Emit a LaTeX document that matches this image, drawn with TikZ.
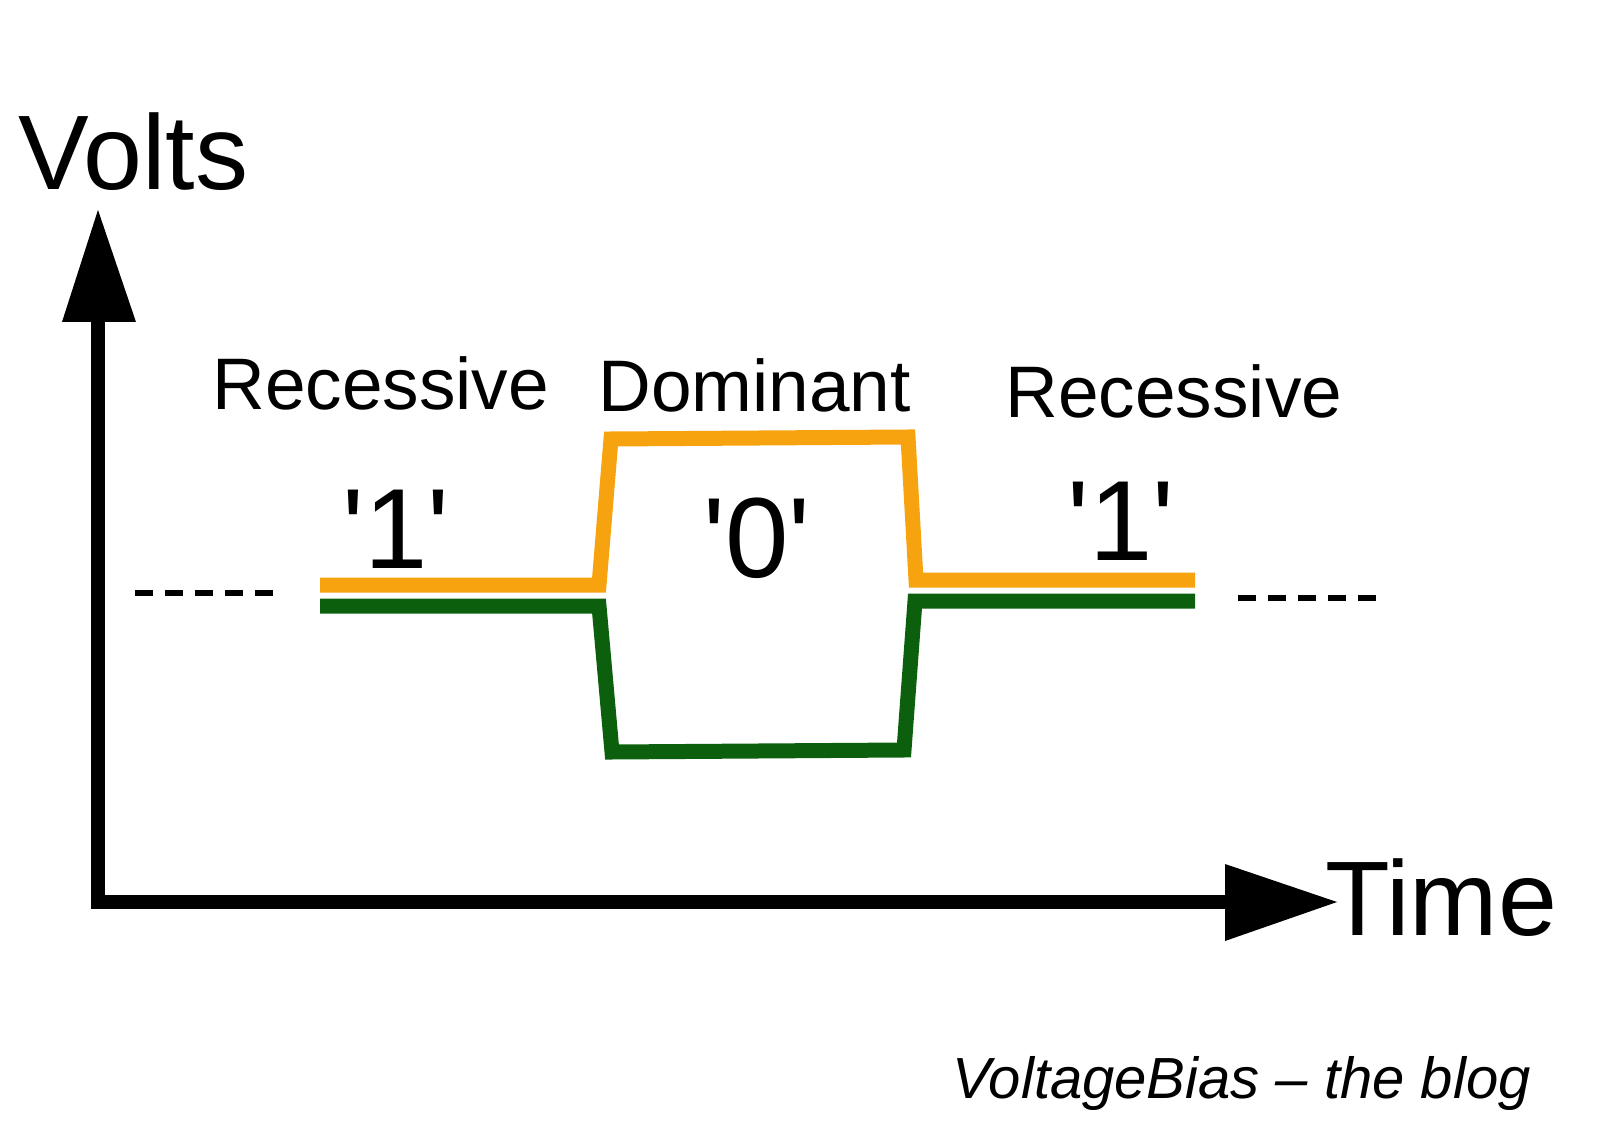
\documentclass[tikz,border=0pt]{standalone}
\usepackage{fontspec}
\setmainfont{Liberation Sans}
\definecolor{org}{HTML}{F7A20F}
\definecolor{grn}{HTML}{0C5F0C}
\newcommand{\sq}{\textquotesingle}
\begin{document}
\begin{tikzpicture}[x=0.5pt,y=-0.5pt,
  wire/.style={line width=7.5pt,line join=miter},
  ax/.style={line width=7pt},
  lbl/.style={inner sep=0pt,anchor=base west}]
\useasboundingbox (0,0) rectangle (1600,1133);
% axes
\coordinate (O) at (98,902);
\coordinate (Xend) at (1225,902);
\draw[ax,line join=miter] (98,320) -- (O) -- (Xend);
\fill (62,322) -- (98,210) -- (136,322) -- cycle;
\fill (1225,864) -- (1337,902) -- (1225,941) -- cycle;
% labels
\node[lbl,font=\fontsize{53}{60}\selectfont] (volts) at (18,190) {Volts};
\node[lbl,font=\fontsize{53}{60}\selectfont] (time) at (1325,935) {Time};
\node[lbl,font=\fontsize{36.5}{42}\selectfont] (r1) at (212,410) {Recessive};
\node[lbl,font=\fontsize{36.5}{42}\selectfont] (dom) at (598,412) {Dominant};
\node[lbl,font=\fontsize{36.5}{42}\selectfont] (r2) at (1005,418) {Recessive};
\node[lbl,font=\fontsize{57}{62}\selectfont] (one1) at (342,568) {\sq1\sq};
\node[lbl,font=\fontsize{57}{62}\selectfont] (zero) at (703,577) {\sq0\sq};
\node[lbl,font=\fontsize{57}{62}\selectfont] (one2) at (1067,560) {\sq1\sq};
\node[lbl,font=\fontsize{29}{36}\selectfont\itshape] (blog) at (952,1098) {VoltageBias – the blog};
% dashes
\draw[line width=3pt,dash pattern=on 9pt off 6pt] (135,593) -- (275,593);
\draw[line width=3pt,dash pattern=on 9pt off 6pt] (1238,598) -- (1378,598);
% waveforms
\draw[wire,org] (320,585) -- (599,585) -- (611,439) -- (908,437) -- (916,580) -- (1195,580);
\draw[wire,grn] (320,606) -- (599,606) -- (612,752) -- (904,750) -- (915,601) -- (1195,601);
\end{tikzpicture}
\end{document}
